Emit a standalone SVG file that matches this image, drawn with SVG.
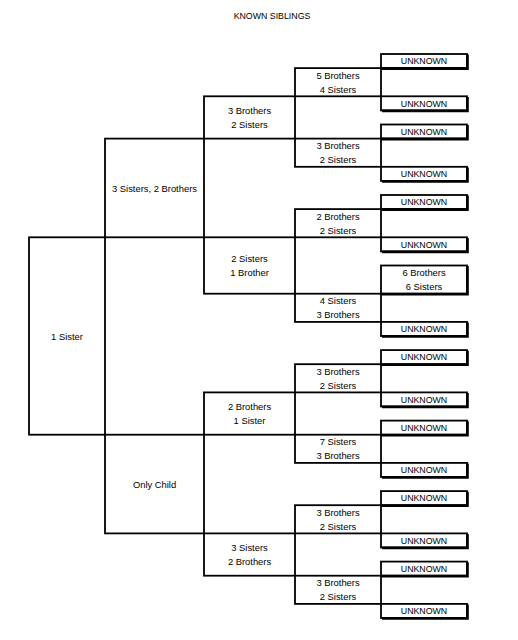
<svg xmlns="http://www.w3.org/2000/svg" width="518" height="640" viewBox="0 0 518 640">
<style>
.b{fill:none;stroke:#000;stroke-width:1.8}
.s{fill:none;stroke:#000;stroke-width:2.8}
text{font-family:"Liberation Sans",Arial,sans-serif;font-size:9.4px;fill:#000;text-anchor:middle}
.u{font-size:8.8px}
.ti{font-size:8.8px}
</style>
<rect width="518" height="640" fill="#fff"/>
<text class="ti" x="272" y="19">KNOWN SIBLINGS</text>

<g id="n0"><rect class="b" x="29" y="237.3" width="76" height="197.4"/><text x="67" y="339.5">1 Sister</text></g>

<g id="n1a"><rect class="b" x="105" y="138.6" width="99" height="98.7"/><text x="154.5" y="191.5">3 Sisters, 2 Brothers</text></g>
<g id="n1b"><rect class="b" x="105" y="434.7" width="99" height="98.7"/><text x="154.5" y="487.5">Only Child</text></g>

<g id="n2a"><rect class="b" x="204" y="96.3" width="91" height="42.3"/><text x="249.5" y="113.9">3 Brothers</text><text x="249.5" y="128">2 Sisters</text></g>
<g id="n2b"><rect class="b" x="204" y="237.3" width="91" height="56.4"/><text x="249.5" y="262">2 Sisters</text><text x="249.5" y="276">1 Brother</text></g>
<g id="n2c"><rect class="b" x="204" y="392.4" width="91" height="42.3"/><text x="249.5" y="410">2 Brothers</text><text x="249.5" y="424.1">1 Sister</text></g>
<g id="n2d"><rect class="b" x="204" y="533.4" width="91" height="42.3"/><text x="249.5" y="551">3 Sisters</text><text x="249.5" y="565.1">2 Brothers</text></g>

<g id="n3a"><rect class="b" x="295" y="68.1" width="86" height="28.2"/><text x="338" y="78.6">5 Brothers</text><text x="338" y="92.7">4 Sisters</text></g>
<g id="n3b"><rect class="b" x="295" y="138.6" width="86" height="28.2"/><text x="338" y="149.1">3 Brothers</text><text x="338" y="163.2">2 Sisters</text></g>
<g id="n3c"><rect class="b" x="295" y="209.1" width="86" height="28.2"/><text x="338" y="219.6">2 Brothers</text><text x="338" y="233.7">2 Sisters</text></g>
<g id="n3d"><rect class="b" x="295" y="293.7" width="86" height="28.2"/><text x="338" y="304.2">4 Sisters</text><text x="338" y="318.3">3 Brothers</text></g>
<g id="n3e"><rect class="b" x="295" y="364.2" width="86" height="28.2"/><text x="338" y="374.7">3 Brothers</text><text x="338" y="388.8">2 Sisters</text></g>
<g id="n3f"><rect class="b" x="295" y="434.7" width="86" height="28.2"/><text x="338" y="445.2">7 Sisters</text><text x="338" y="459.3">3 Brothers</text></g>
<g id="n3g"><rect class="b" x="295" y="505.2" width="86" height="28.2"/><text x="338" y="515.7">3 Brothers</text><text x="338" y="529.8">2 Sisters</text></g>
<g id="n3h"><rect class="b" x="295" y="575.7" width="86" height="28.2"/><text x="338" y="586.2">3 Brothers</text><text x="338" y="600.3">2 Sisters</text></g>

<g id="n4a"><rect class="b" x="381" y="54" width="86" height="14.1"/><path class="s" d="M467.4 54.6V68.5H382"/><text class="u" x="424" y="64.3">UNKNOWN</text></g>
<g id="n4b"><rect class="b" x="381" y="96.3" width="86" height="14.1"/><path class="s" d="M467.4 96.9V110.8H382"/><text class="u" x="424" y="106.6">UNKNOWN</text></g>
<g id="n4c"><rect class="b" x="381" y="124.5" width="86" height="14.1"/><path class="s" d="M467.4 125.1V139H382"/><text class="u" x="424" y="134.8">UNKNOWN</text></g>
<g id="n4d"><rect class="b" x="381" y="166.8" width="86" height="14.1"/><path class="s" d="M467.4 167.4V181.3H382"/><text class="u" x="424" y="177.1">UNKNOWN</text></g>
<g id="n4e"><rect class="b" x="381" y="195" width="86" height="14.1"/><path class="s" d="M467.4 195.6V209.5H382"/><text class="u" x="424" y="205.3">UNKNOWN</text></g>
<g id="n4f"><rect class="b" x="381" y="237.3" width="86" height="14.1"/><path class="s" d="M467.4 237.9V251.8H382"/><text class="u" x="424" y="247.6">UNKNOWN</text></g>
<g id="n4g"><rect class="b" x="381" y="265.5" width="86" height="28.2"/><path class="s" d="M467.4 266.1V294.1H382"/><text x="424" y="276">6 Brothers</text><text x="424" y="290.1">6 Sisters</text></g>
<g id="n4h"><rect class="b" x="381" y="321.9" width="86" height="14.1"/><path class="s" d="M467.4 322.5V336.4H382"/><text class="u" x="424" y="332.2">UNKNOWN</text></g>
<g id="n4i"><rect class="b" x="381" y="350.1" width="86" height="14.1"/><path class="s" d="M467.4 350.7V364.6H382"/><text class="u" x="424" y="360.4">UNKNOWN</text></g>
<g id="n4j"><rect class="b" x="381" y="392.4" width="86" height="14.1"/><path class="s" d="M467.4 393V406.9H382"/><text class="u" x="424" y="402.7">UNKNOWN</text></g>
<g id="n4k"><rect class="b" x="381" y="420.6" width="86" height="14.1"/><path class="s" d="M467.4 421.2V435.1H382"/><text class="u" x="424" y="430.9">UNKNOWN</text></g>
<g id="n4l"><rect class="b" x="381" y="462.9" width="86" height="14.1"/><path class="s" d="M467.4 463.5V477.4H382"/><text class="u" x="424" y="473.2">UNKNOWN</text></g>
<g id="n4m"><rect class="b" x="381" y="491.1" width="86" height="14.1"/><path class="s" d="M467.4 491.7V505.6H382"/><text class="u" x="424" y="501.4">UNKNOWN</text></g>
<g id="n4n"><rect class="b" x="381" y="533.4" width="86" height="14.1"/><path class="s" d="M467.4 534V547.9H382"/><text class="u" x="424" y="543.7">UNKNOWN</text></g>
<g id="n4o"><rect class="b" x="381" y="561.6" width="86" height="14.1"/><path class="s" d="M467.4 562.2V576.1H382"/><text class="u" x="424" y="571.9">UNKNOWN</text></g>
<g id="n4p"><rect class="b" x="381" y="603.9" width="86" height="14.1"/><path class="s" d="M467.4 604.5V618.4H382"/><text class="u" x="424" y="614.2">UNKNOWN</text></g>
</svg>
